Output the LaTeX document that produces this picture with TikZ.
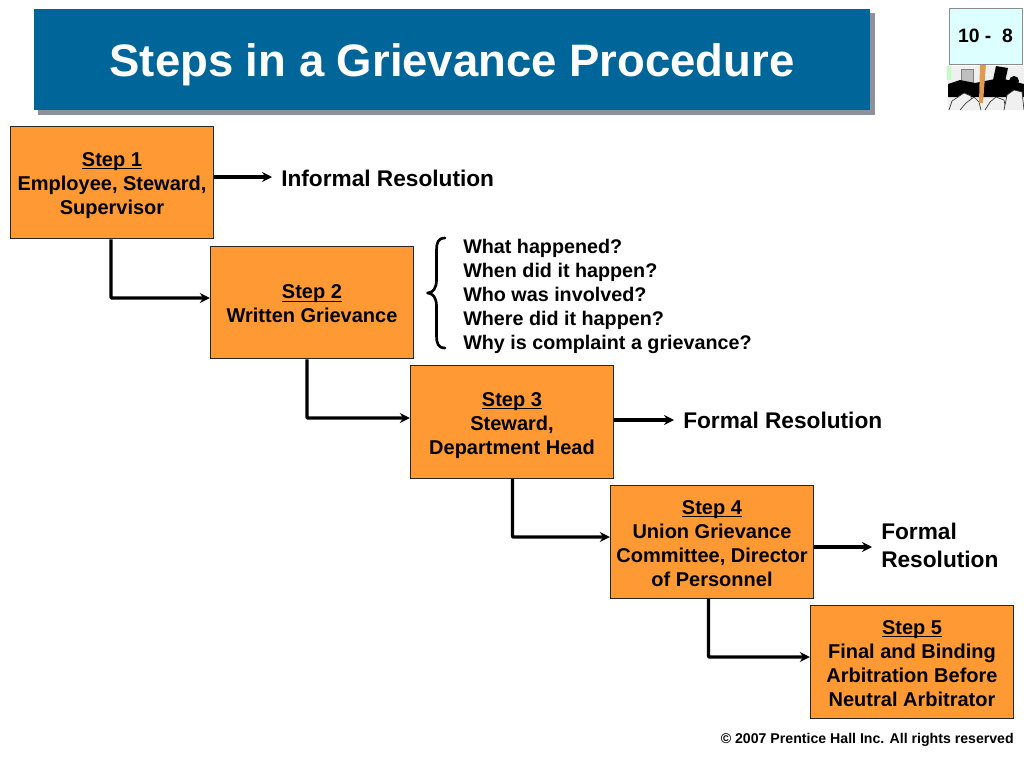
\documentclass[tikz,border=0pt]{standalone}
\usepackage{fontspec}
\setmainfont{Liberation Sans}
\usetikzlibrary{arrows.meta}
\definecolor{boxorange}{HTML}{FF9933}
\definecolor{titleblue}{HTML}{006699}
\definecolor{shadowgray}{HTML}{8C919B}
\definecolor{signblue}{HTML}{DDFFFF}
\definecolor{stickorange}{HTML}{E09A50}
\newcommand{\steptitle}[2]{\setbox0\hbox{#2}\rule{0pt}{#1}\rlap{\rule[-2.3pt]{\wd0}{0.9pt}}\box0}
\tikzset{
  stepbox/.style={draw=black!85,fill=boxorange,line width=0.7pt,minimum width=152.5pt,minimum height=84.5pt,inner sep=0pt,align=center,font=\fontsize{15}{18}\bfseries\selectfont,text=black},
  lbl/.style={inner sep=0pt,align=left,font=\fontsize{17}{20.5}\bfseries\selectfont,anchor=west},
  conn/.style={line width=2.3pt,-{Stealth[length=7.5pt,width=7.5pt]},line join=round},
  flow/.style={line width=2.5pt,-{Stealth[length=7.5pt,width=7.5pt]},line join=round,rounded corners=0.5pt},
  figure/.style={draw=black!80,line width=0.5pt,fill=gray!12,line join=round}
}
\begin{document}
\begin{tikzpicture}[x=0.75pt,y=-0.75pt]
\useasboundingbox (0,0) rectangle (1024,768);
\fill[white] (0,0) rectangle (1024,768);
% title
\fill[shadowgray] (38,13) rectangle (875,115);
\node[fill=titleblue,draw=none,minimum width=627pt,minimum height=75.5pt,inner sep=0pt,anchor=north west] (title) at (34,9) {};
\node[inner sep=0pt,font=\fontsize{34.1}{40}\bfseries\selectfont,text=white] (titletext) at (452,65) {Steps in a Grievance Procedure};
% cartoon
\fill[gray!12] (948,66) rectangle (1024,110);
\fill[green!25] (947,66) -- (951,66) -- (951,80) -- (947,80) -- cycle;
\fill[gray!50,draw=black!50,line width=0.3pt] (961,69) rectangle (973,82);
\fill[black] (996,66) -- (1008,68) -- (1005,82) -- (993,80) -- cycle;
\fill[black] (1014,81) circle (5);
\fill[black] (948,84) -- (960,80) -- (975,83) -- (990,80) -- (1000,78) -- (1024,84) -- (1024,97) -- (948,97) -- cycle;
\draw[figure] (949,110) -- (952,101) -- (958,97) -- (964,93) -- (971,96) -- (972,110);
\draw[figure] (960,110) -- (966,103) -- (974,97) -- (979,102) -- (981,110);
\draw[figure] (985,110) -- (990,102) -- (996,97) -- (1004,100) -- (1006,110);
\draw[figure] (1004,110) -- (1007,95) -- (1014,90) -- (1022,92) -- (1024,110);
\fill[stickorange] (980,64) -- (986,64) -- (983,103) -- (979,103) -- cycle;
\node[draw=black!45,fill=signblue,line width=0.4pt,minimum width=55pt,minimum height=42pt,inner sep=0pt,anchor=north west,font=\fontsize{14.5}{16}\bfseries\selectfont] (sign) at (948.5,8) {\raisebox{1pt}{10 -\ \ 8}};
% steps
\node[stepbox] (s1) at (112,182.5) {\steptitle{14.7pt}{Step 1}\\Employee, Steward,\\Supervisor};
\node[stepbox] (s2) at (312,302.5) {\steptitle{12.4pt}{Step 2}\\Written Grievance};
\node[stepbox] (s3) at (512,422) {\steptitle{15.5pt}{Step 3}\\Steward,\\Department Head};
\node[stepbox] (s4) at (712,542) {\steptitle{12.6pt}{Step 4}\\Union Grievance\\Committee, Director\\of Personnel};
\node[stepbox] (s5) at (912,662) {\steptitle{12.6pt}{Step 5}\\Final and Binding\\Arbitration Before\\Neutral Arbitrator};
% outcome labels
\node[lbl] (r1) at (281,178.5) {Informal Resolution};
\node[lbl] (r3) at (683,420.5) {Formal Resolution};
\node[lbl] (r4) at (881,545.5) {Formal\\Resolution};
\node[inner sep=0pt,align=left,anchor=west,font=\fontsize{14.8}{18}\bfseries\selectfont] (qs) at (463,296) {What happened?\\When did it happen?\\Who was involved?\\Where did it happen?\\Why is complaint a grievance?};
% brace
\coordinate (bt) at (445,238);
\coordinate (bm) at (427.5,293);
\coordinate (bb) at (445,348);
\draw[line width=2pt,line cap=round,line join=round] (bt) .. controls (438,238) and (436.5,243) .. (436.5,250) -- (436.5,280) .. controls (436.5,288) and (433,293) .. (bm) .. controls (433,293) and (436.5,298) .. (436.5,306) -- (436.5,336) .. controls (436.5,343) and (438,348) .. (bb);
% connectors
\coordinate (a1) at (272,177);
\coordinate (a3) at (674,420);
\coordinate (a4) at (872,547);
\draw[conn] (s1.east |- a1) -- (a1);
\draw[conn] (s3.east |- a3) -- (a3);
\draw[conn] (s4.east |- a4) -- (a4);
\coordinate (c12) at (111,298);
\coordinate (c23) at (307,418);
\coordinate (c34) at (512.5,537);
\coordinate (c45) at (708.5,657);
\draw[flow] (s1.south -| c12) -- (c12) -- (s2.west |- c12);
\draw[flow] (s2.south -| c23) -- (c23) -- (s3.west |- c23);
\draw[flow] (s3.south -| c34) -- (c34) -- (s4.west |- c34);
\draw[flow] (s4.south -| c45) -- (c45) -- (s5.west |- c45);
% copyright
\node[inner sep=0pt,anchor=east,font=\fontsize{10.6}{12}\bfseries\selectfont] (copy) at (1014,740) {© 2007 Prentice Hall Inc. All rights reserved};
\end{tikzpicture}
\end{document}
